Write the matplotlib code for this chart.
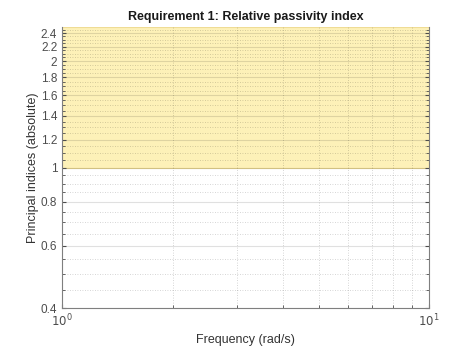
import numpy as np
import matplotlib.pyplot as plt
from matplotlib.ticker import FixedLocator, NullFormatter

plt.rcParams['font.family'] = ['Liberation Sans', 'DejaVu Sans']

# datos del gráfico
x_limits = [1, 10]
y_limits = [0.4, 2.5]
y_ticks = [0.4, 0.6, 0.8, 1, 1.2, 1.4, 1.6, 1.8, 2, 2.2, 2.4]
y_tick_labels = ['0.4', '0.6', '0.8', '1', '1.2', '1.4', '1.6', '1.8', '2', '2.2', '2.4']
y_minor = [round(v, 2) for v in np.arange(0.45, 2.5, 0.05)]
x_minor = [2, 3, 4, 5, 6, 7, 8, 9]
bound_low = 1.0  # región no permitida: índice > 1

fig = plt.figure(figsize=(4.74, 3.55), dpi=100)
ax = fig.add_axes([0.131, 0.132, 0.774, 0.792])
ax.set_xscale('log')
ax.set_yscale('log')
ax.set_xlim(x_limits)
ax.set_ylim(y_limits)

# región sombreada amarilla
ax.axhspan(bound_low, y_limits[1], facecolor='#fdf1b8', edgecolor='#efdc95',
           linewidth=0.8, zorder=0)

ax.yaxis.set_major_locator(FixedLocator(y_ticks))
ax.set_yticklabels(y_tick_labels)
ax.yaxis.set_minor_locator(FixedLocator([v for v in y_minor if v not in y_ticks]))
ax.yaxis.set_minor_formatter(NullFormatter())
ax.xaxis.set_major_locator(FixedLocator([1, 10]))
ax.set_xticklabels(['$10^0$', '$10^1$'])
ax.xaxis.set_minor_locator(FixedLocator(x_minor))
ax.xaxis.set_minor_formatter(NullFormatter())

ax.grid(True, which='major', axis='y', color='k', alpha=0.12, linewidth=0.8, linestyle='-')
ax.grid(True, which='minor', axis='both', color='k', alpha=0.22, linewidth=0.6,
        linestyle=(0, (1, 2)))
ax.set_axisbelow(True)

ax.tick_params(which='both', direction='in', right=True, top=False,
               labelsize=8.5, colors='#4d4d4d', length=3)
ax.tick_params(which='minor', length=2)
for side in ['left', 'bottom', 'right']:
    ax.spines[side].set_color('#7f7f7f')
ax.spines['top'].set_visible(False)

ax.set_title('Requirement 1: Relative passivity index', fontsize=9,
             fontweight='bold', color='#1a1a1a', pad=5)
ax.set_xlabel('Frequency (rad/s)', fontsize=9, color='#333333', labelpad=3)
ax.set_ylabel('Principal indices (absolute)', fontsize=9, color='#333333', labelpad=1)

fig.savefig('out.png', dpi=100)
